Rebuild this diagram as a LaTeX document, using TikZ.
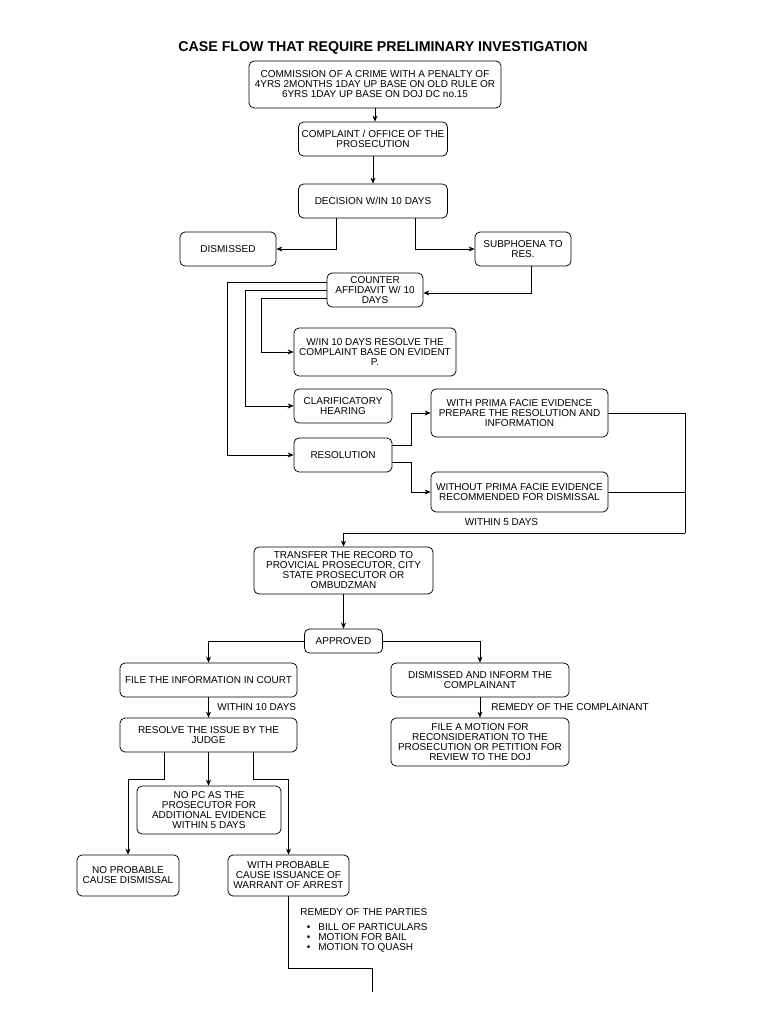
\documentclass[tikz,border=0pt]{standalone}
\usepackage{fontspec}
\setmainfont{Liberation Sans}
\usetikzlibrary{arrows.meta, positioning}

\begin{document}
\begin{tikzpicture}[x=1pt, y=-1pt, >={Stealth[length=6pt, width=5pt]}, line width=0.75pt,
        every node/.style={font=\fontsize{10}{10}\selectfont, inner sep=1pt},
        box/.style={draw, rounded corners=5pt, align=center}]
    \useasboundingbox (0,0) rectangle (768,1024);

        \node[font=\bfseries\fontsize{14.2}{14.2}\selectfont] (Title) at (383,48) {CASE FLOW THAT REQUIRE PRELIMINARY INVESTIGATION};

        \node[box, minimum width=252pt, minimum height=47pt] (Crime) at (375,84.5) {COMMISSION OF A CRIME WITH A PENALTY OF\\4YRS 2MONTHS 1DAY UP BASE ON OLD RULE OR\\6YRS 1DAY UP BASE ON DOJ DC no.15};
        \node[box, minimum width=149pt, minimum height=34pt] (Compl) at (373,139) {COMPLAINT / OFFICE OF THE\\PROSECUTION};
        \node[box, minimum width=149pt, minimum height=34pt] (Dec) at (373,201) {DECISION W/IN 10 DAYS};
        \node[box, minimum width=96pt, minimum height=34pt] (Dism) at (228,249) {DISMISSED};
        \node[box, minimum width=96pt, minimum height=34pt] (Subp) at (523,249) {SUBPHOENA TO\\RES.};
        \node[box, minimum width=96pt, minimum height=34pt] (Counter) at (375,290) {COUNTER\\AFFIDAVIT W/ 10\\DAYS};
        \node[box, minimum width=162pt, minimum height=48pt] (Res10) at (375,352) {W/IN 10 DAYS RESOLVE THE\\COMPLAINT BASE ON EVIDENT\\P.};
        \node[box, minimum width=98pt, minimum height=34pt] (Clar) at (343,406) {CLARIFICATORY\\HEARING};
        \node[box, minimum width=98pt, minimum height=34pt] (Resol) at (343,455) {RESOLUTION};
        \node[box, minimum width=177pt, minimum height=48pt] (WithPF) at (519.5,413) {WITH PRIMA FACIE EVIDENCE\\PREPARE THE RESOLUTION AND\\INFORMATION};
        \node[box, minimum width=177pt, minimum height=40pt] (WoPF) at (519.5,492) {WITHOUT PRIMA FACIE EVIDENCE\\RECOMMENDED FOR DISMISSAL};
        \node (W5) at (501.5,522) {WITHIN 5 DAYS};

        \node[box, minimum width=179pt, minimum height=47pt] (Transf) at (343.5,570.5) {TRANSFER THE RECORD TO\\PROVICIAL PROSECUTOR, CITY\\STATE PROSECUTOR OR\\OMBUDZMAN};
        \node[box, minimum width=78pt, minimum height=24pt] (Appr) at (343.5,641) {APPROVED};
        \node[box, minimum width=177pt, minimum height=34pt] (FileInfo) at (208.5,680) {FILE THE INFORMATION IN COURT};
        \node[box, minimum width=178pt, minimum height=34pt] (DismInf) at (480,680) {DISMISSED AND INFORM THE\\COMPLAINANT};
        \node[box, minimum width=177pt, minimum height=34pt] (Judge) at (208.5,735) {RESOLVE THE ISSUE BY THE\\JUDGE};
        \node[box, minimum width=178pt, minimum height=48pt] (Motion) at (480,742) {FILE A MOTION FOR\\RECONSIDERATION TO THE\\PROSECUTION OR PETITION FOR\\REVIEW TO THE DOJ};
        \node[anchor=west] (W10) at (216,707) {WITHIN 10 DAYS};
        \node[anchor=west] (RemCompl) at (490,707) {REMEDY OF THE COMPLAINANT};

        \node[box, minimum width=144pt, minimum height=48pt] (NoPC) at (209,810) {NO PC AS THE\\PROSECUTOR FOR\\ADDITIONAL EVIDENCE\\WITHIN 5 DAYS};
        \node[box, minimum width=102pt, minimum height=41pt] (NoProb) at (128,875.5) {NO PROBABLE\\CAUSE DISMISSAL};
        \node[box, minimum width=121pt, minimum height=41pt] (WithProb) at (288.5,875.5) {WITH PROBABLE\\CAUSE ISSUANCE OF\\WARRANT OF ARREST};
        \node[anchor=west] (RemParties) at (299,912) {REMEDY OF THE PARTIES};
        \foreach \t [count=\i] in {BILL OF PARTICULARS, MOTION FOR BAIL, MOTION TO QUASH}
            \node[anchor=base west] (Item\i) at (305.5,920.6+10*\i) {\textbullet\hspace{8pt}\t};

        \draw[->] (Crime.south) -- (Crime.south |- Compl.north);
        \draw[->] (Compl) -- (Dec);
        \draw[->] ([xshift=-37pt]Dec.south) |- (Dism.east);
        \draw[->] ([xshift=42pt]Dec.south) |- (Subp.west);
        \draw[->] ([xshift=8pt]Subp.south) |- ([yshift=-3pt]Counter.east);
        \draw[->] ([yshift=8pt]Counter.west) -- ++(-99,0) |- (Resol.west);
        \draw[->] (Counter.west) -- ++(-81,0) |- (Clar.west);
        \draw[->] ([yshift=-8pt]Counter.west) -- ++(-65,0) |- (Res10.west);
        \draw[->] ([yshift=10pt]Resol.east) -- ++(19,0) |- (WithPF.west);
        \draw[->] ([yshift=-7pt]Resol.east) -- ++(19,0) |- (WoPF.west);
        \coordinate (Rail) at (685,533);
        \draw (WithPF.east) -| (Rail);
        \draw (WoPF.east) -- (WoPF.east -| Rail);
        \draw[->] (Rail) -| (Transf.north);
        \draw[->] (Transf) -- (Appr);
        \draw[->] (Appr.west) -| (FileInfo.north);
        \draw[->] (Appr.east) -| (DismInf.north);
        \draw[->] (FileInfo) -- (Judge);
        \draw[->] (DismInf) -- (Motion);
        \draw[->] ([xshift=-44.5pt]Judge.south) -- ++(0,27) -| (NoProb.north);
        \draw[->] (Judge.south) -- (Judge.south |- NoPC.north);
        \draw[->] ([xshift=44.5pt]Judge.south) -- ++(0,27) -| (WithProb.north);
        \coordinate (Tail) at (372,992);
        \draw (WithProb.south) -- ++(0,72) -| (Tail);
    \end{tikzpicture}
\end{document}
